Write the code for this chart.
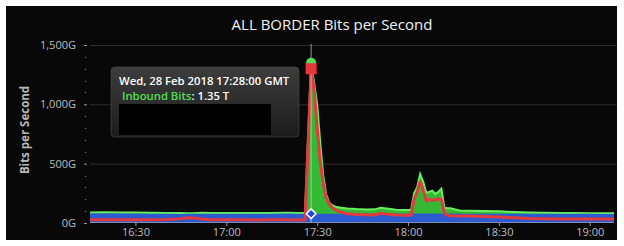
<!DOCTYPE html>
<html>
<head>
<meta charset="utf-8">
<script src="https://cdn.jsdelivr.net/npm/d3@7"></script>
<style>
  body { margin: 0; background: #fff; }
  text { font-family: 'Open Sans', sans-serif; }
</style>
</head>
<body>
<script>
// minutes as HH:MM, one value per series per time
const times = ['16:15', '16:20', '16:25', '16:30', '16:35', '16:40', '16:45', '16:47', '16:49', '16:52',
  '16:55', '17:00', '17:05', '17:10', '17:15', '17:20', '17:24', '17:26', '17:28', '17:29',
  '17:30', '17:31', '17:32', '17:33', '17:34', '17:35', '17:36', '17:38', '17:40', '17:43',
  '17:46', '17:49', '17:51', '17:53', '17:56', '17:59', '18:01', '18:02', '18:03', '18:04',
  '18:05', '18:06', '18:07', '18:08', '18:09', '18:10', '18:11', '18:12', '18:13', '18:14',
  '18:17', '18:20', '18:25', '18:30', '18:35', '18:40', '18:45', '18:50', '18:55', '19:00',
  '19:05', '19:08']

// Inbound Bits (green area), in G
const inboundBits = [88, 90, 89, 88, 86, 85, 84, 82, 83, 86,
  85, 84, 85, 84, 85, 86, 84, 85, 1350, 1180,
  1000, 680, 400, 240, 170, 150, 138, 128, 122, 117,
  114, 115, 128, 122, 112, 110, 110, 250, 300, 413,
  350, 255, 262, 272, 245, 262, 290, 130, 125, 124,
  106, 104, 102, 98, 93, 89, 86, 85, 84, 83,
  82, 82]

// blue area, in G
const baseBits = [80, 82, 81, 80, 79, 78, 76, 77, 77, 79,
  78, 78, 79, 78, 79, 80, 78, 78, 78, 78,
  78, 78, 78, 78, 78, 78, 79, 79, 80, 80,
  79, 79, 80, 80, 79, 79, 80, 80, 80, 80,
  80, 80, 80, 80, 80, 80, 80, 80, 80, 80,
  80, 79, 79, 78, 78, 78, 77, 77, 77, 77,
  76, 76]

// red line, in G
const outboundBits = [28, 27, 28, 27, 28, 30, 36, 44, 42, 34,
  28, 27, 27, 26, 27, 27, 26, 26, 1300, 1120,
  800, 520, 330, 210, 160, 130, 110, 90, 78, 72,
  70, 68, 82, 74, 67, 66, 66, 200, 260, 348,
  280, 185, 198, 196, 192, 205, 200, 80, 65, 62,
  60, 58, 55, 50, 44, 38, 35, 34, 33, 33,
  33, 33]

const yTicks = [0, 500, 1000, 1500]
const yMinor = [100, 200, 300, 400, 600, 700, 800, 900, 1100, 1200, 1300, 1400]
const xTicks = ['16:30', '17:00', '17:30', '18:00', '18:30', '19:00']

const hoverTime = '17:28'
const tipDate = 'Wed, 28 Feb 2018 17:28:00 GMT'
const tipLabel = 'Inbound Bits'
const tipValue = ': 1.35 T'

const parseTime = d3.timeParse('%H:%M')

const width = 624
const height = 246
const plot = { left: 88, right: 617, top: 45, bottom: 223 }

const svg = d3
  .select('body')
  .append('svg')
  .attr('width', width)
  .attr('height', height)

svg
  .append('rect')
  .attr('x', 6)
  .attr('y', 6)
  .attr('width', 611)
  .attr('height', 234)
  .attr('fill', '#080808')

const xScale = d3
  .scaleTime()
  .domain([parseTime('16:15'), parseTime('19:08')])
  .range([90, 614])

const yScale = d3
  .scaleLinear()
  .domain([0, 1500])
  .range([plot.bottom, plot.top])

const data = times.map((t, i) => ({
  time: parseTime(t),
  inbound: inboundBits[i],
  base: baseBits[i],
  outbound: outboundBits[i]
}))

// title
svg
  .append('text')
  .attr('x', 332)
  .attr('y', 30)
  .attr('text-anchor', 'middle')
  .attr('fill', '#f2f2f2')
  .attr('font-size', 15)
  .text('ALL BORDER Bits per Second')

// y axis title
svg
  .append('text')
  .attr('transform', 'translate(29,130) rotate(-90)')
  .attr('text-anchor', 'middle')
  .attr('fill', '#b8b8b8')
  .attr('font-size', 11.5)
  .attr('font-weight', 700)
  .text('Bits per Second')

// grid lines
svg
  .selectAll('.grid')
  .data(yTicks.slice(1))
  .enter()
  .append('line')
  .attr('class', 'grid')
  .attr('x1', plot.left + 2)
  .attr('x2', plot.right)
  .attr('y1', d => yScale(d) + 0.5)
  .attr('y2', d => yScale(d) + 0.5)
  .attr('stroke', '#2c2c2c')

// y axis: labels, major dashes, minor dots
const yAxis = svg
  .append('g')
  .attr('transform', 'translate(' + (plot.left - 3) + ',0)')
  .call(
    d3
      .axisLeft(yScale)
      .tickValues(yTicks)
      .tickSize(3)
      .tickPadding(6)
      .tickFormat(d => d3.format(',')(d) + 'G')
  )
yAxis.select('.domain').remove()
yAxis.selectAll('line').attr('stroke', '#999').attr('transform', 'translate(2,0)')
yAxis
  .selectAll('text')
  .attr('fill', '#bdbdbd')
  .attr('font-size', 11)
  .attr('font-family', "'Open Sans', sans-serif")

svg
  .selectAll('.minor')
  .data(yMinor)
  .enter()
  .append('rect')
  .attr('class', 'minor')
  .attr('x', plot.left - 3)
  .attr('y', d => Math.round(yScale(d)))
  .attr('width', 1)
  .attr('height', 1)
  .attr('fill', '#888')

// x axis
const xAxis = svg
  .append('g')
  .attr('transform', 'translate(0,' + plot.bottom + ')')
  .call(
    d3
      .axisBottom(xScale)
      .tickValues(xTicks.map(parseTime))
      .tickSize(3)
      .tickPadding(2)
      .tickFormat(d3.timeFormat('%H:%M'))
  )
xAxis.select('.domain').remove()
xAxis.selectAll('line').attr('stroke', '#999')
xAxis
  .selectAll('text')
  .attr('fill', '#bdbdbd')
  .attr('font-size', 11)
  .attr('font-family', "'Open Sans', sans-serif")

// series
const greenArea = d3
  .area()
  .x(d => xScale(d.time))
  .y0(yScale(0))
  .y1(d => yScale(d.inbound))

const greenLine = d3
  .line()
  .x(d => xScale(d.time))
  .y(d => yScale(d.inbound))

const blueArea = d3
  .area()
  .x(d => xScale(d.time))
  .y0(yScale(0))
  .y1(d => yScale(d.base))

const redLine = d3
  .line()
  .x(d => xScale(d.time))
  .y(d => yScale(d.outbound))

svg
  .append('path')
  .datum(data)
  .attr('d', greenArea)
  .attr('fill', '#35b935')

svg
  .append('path')
  .datum(data)
  .attr('d', greenLine)
  .attr('fill', 'none')
  .attr('stroke', '#66ee5e')
  .attr('stroke-width', 2)

svg
  .append('path')
  .datum(data)
  .attr('d', blueArea)
  .attr('fill', '#2c5ad0')

svg
  .append('line')
  .attr('x1', xScale.range()[0])
  .attr('x2', xScale.range()[1])
  .attr('y1', plot.bottom - 0.5)
  .attr('y2', plot.bottom - 0.5)
  .attr('stroke', '#7d8fb4')

svg
  .append('path')
  .datum(data)
  .attr('d', redLine)
  .attr('fill', 'none')
  .attr('stroke', '#e23a3e')
  .attr('stroke-width', 3)
  .attr('stroke-linejoin', 'round')

// hover crosshair and markers
const hover = data.find(d => d3.timeFormat('%H:%M')(d.time) === hoverTime)
const hx = xScale(hover.time)

svg
  .append('line')
  .attr('x1', hx)
  .attr('x2', hx)
  .attr('y1', plot.top - 1)
  .attr('y2', plot.bottom)
  .attr('stroke', '#d0d0d0')
  .attr('stroke-opacity', 0.7)

svg
  .append('circle')
  .attr('cx', hx)
  .attr('cy', yScale(hover.inbound))
  .attr('r', 5)
  .attr('fill', '#55dd55')

svg
  .append('rect')
  .attr('x', hx - 5.5)
  .attr('y', yScale(hover.outbound) - 5.5)
  .attr('width', 11)
  .attr('height', 11)
  .attr('fill', '#e63438')

svg
  .append('path')
  .attr('d', d3.symbol(d3.symbolDiamond2, 60)())
  .attr('transform', 'translate(' + hx + ',' + yScale(hover.base) + ')')
  .attr('fill', '#2447e0')
  .attr('stroke', '#fff')
  .attr('stroke-width', 1.5)

// tooltip
const defs = svg.append('defs')
const grad = defs
  .append('linearGradient')
  .attr('id', 'tip-bg')
  .attr('x1', 0)
  .attr('y1', 0)
  .attr('x2', 0)
  .attr('y2', 1)
grad.append('stop').attr('offset', '0%').attr('stop-color', '#3d3d3d')
grad.append('stop').attr('offset', '100%').attr('stop-color', '#1c1c1c')

const tip = svg.append('g').attr('transform', 'translate(111,67)')

tip
  .append('rect')
  .attr('width', 188)
  .attr('height', 70)
  .attr('rx', 4)
  .attr('fill', 'url(#tip-bg)')
  .attr('stroke', '#4a4a4a')
  .attr('stroke-width', 0.6)

tip
  .append('text')
  .attr('x', 8)
  .attr('y', 18)
  .attr('fill', '#fff')
  .attr('font-size', 11.3)
  .attr('font-weight', 600)
  .text(tipDate)

const row = tip
  .append('text')
  .attr('x', 11)
  .attr('y', 33)
  .attr('font-size', 11.3)
  .attr('font-weight', 600)

row.append('tspan').attr('fill', '#4fe04f').text(tipLabel)
row.append('tspan').attr('fill', '#fff').text(tipValue)

tip
  .append('rect')
  .attr('x', 8)
  .attr('y', 37)
  .attr('width', 152)
  .attr('height', 31)
  .attr('fill', '#000')
</script>
</body>
</html>
